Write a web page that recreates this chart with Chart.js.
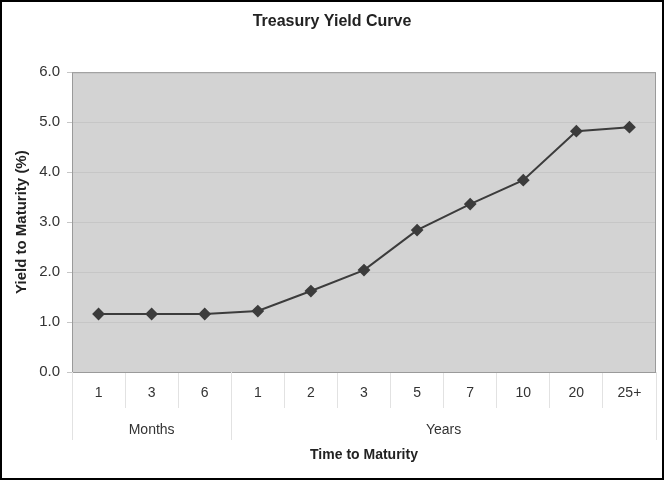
<!DOCTYPE html>
<html>
<head>
<meta charset="utf-8">
<script src="https://cdn.jsdelivr.net/npm/chart.js@4"></script>
<style>
  html, body { margin: 0; padding: 0; background: #fff; }
  #wrap { width: 664px; height: 480px; position: relative; }
</style>
</head>
<body>
<div id="wrap"><canvas id="chart_yield"></canvas></div>
<script>
// dados do gráfico
const maturities = ['1', '3', '6', '1', '2', '3', '5', '7', '10', '20', '25+'];
const groupNames = ['Months', 'Years'];
const groupSizes = [3, 8];
const yields = [1.16, 1.16, 1.16, 1.22, 1.62, 2.04, 2.84, 3.36, 3.84, 4.82, 4.90];

const FONT = "'Liberation Sans', Arial, sans-serif";

// fundo cinza da área do gráfico + moldura
const plotBackground = {
  id: 'plotBackground',
  beforeDraw(chart) {
    const { ctx, chartArea: a } = chart;
    ctx.save();
    ctx.fillStyle = '#d3d3d3';
    ctx.fillRect(a.left, a.top, a.right - a.left, a.bottom - a.top);
    ctx.restore();
  },
  afterDraw(chart) {
    const { ctx, chartArea: a, width, height } = chart;
    ctx.save();
    ctx.strokeStyle = '#9a9a9a';
    ctx.lineWidth = 1;
    ctx.strokeRect(a.left + 0.5, a.top + 0.5, a.right - a.left - 1, a.bottom - a.top);
    ctx.strokeStyle = '#000';
    ctx.lineWidth = 2;
    ctx.strokeRect(1, 1, width - 2, height - 2);
    ctx.restore();
  }
};

// rótulos de grupo (Months / Years) abaixo do eixo x
const groupLabels = {
  id: 'groupLabels',
  afterDraw(chart) {
    const { ctx, chartArea: a } = chart;
    const x = chart.scales.x;
    const half = (x.getPixelForValue(1) - x.getPixelForValue(0)) / 2;
    ctx.save();
    ctx.strokeStyle = '#e2e2e2';
    ctx.lineWidth = 1;
    ctx.fillStyle = '#333';
    ctx.font = '14px ' + FONT;
    ctx.textAlign = 'center';
    ctx.textBaseline = 'middle';
    let start = 0;
    groupNames.forEach((name, i) => {
      const end = start + groupSizes[i] - 1;
      const l = x.getPixelForValue(start) - half;
      const r = x.getPixelForValue(end) + half;
      [l, r].forEach(px => {
        ctx.beginPath();
        ctx.moveTo(Math.round(px) + 0.5, a.bottom);
        ctx.lineTo(Math.round(px) + 0.5, a.bottom + 68);
        ctx.stroke();
      });
      ctx.fillText(name, (l + r) / 2, a.bottom + 58);
      start = end + 1;
    });
    ctx.restore();
  }
};

new Chart(document.getElementById('chart_yield'), {
  type: 'line',
  data: {
    labels: maturities,
    datasets: [{
      label: 'Yield',
      data: yields,
      borderColor: '#3c3c3c',
      backgroundColor: '#3c3c3c',
      borderWidth: 2,
      pointStyle: 'rectRot',
      pointRadius: 5,
      pointHoverRadius: 5,
      tension: 0,
    }],
  },
  options: {
    responsive: true,
    maintainAspectRatio: false,
    animation: false,
    layout: { padding: { left: 8, right: 8, top: 0, bottom: 4 } },
    plugins: {
      legend: { display: false },
      tooltip: { enabled: false },
      title: {
        display: true,
        text: 'Treasury Yield Curve',
        color: '#222',
        font: { family: FONT, size: 16, weight: 'bold' },
        padding: { top: 12, bottom: 41 },
      },
    },
    scales: {
      x: {
        offset: true,
        border: { display: false },
        grid: {
          offset: true,
          drawOnChartArea: false,
          drawTicks: true,
          tickLength: 36,
          color: '#e2e2e2',
        },
        ticks: {
          color: '#333',
          font: { family: FONT, size: 14 },
          padding: -23,
          maxRotation: 0,
          autoSkip: false,
        },
        title: {
          display: true,
          text: 'Time to Maturity',
          color: '#222',
          font: { family: FONT, size: 14, weight: 'bold' },
          padding: { top: 0, bottom: 12 },
        },
        afterFit(scale) { scale.height = 104; },
      },
      y: {
        min: 0,
        max: 6,
        border: { display: false },
        grid: { color: '#c6c6c6', tickLength: 5 },
        ticks: {
          stepSize: 1,
          color: '#333',
          font: { family: FONT, size: 15 },
          padding: 7,
          callback: v => v.toFixed(1),
        },
        title: {
          display: true,
          text: 'Yield to Maturity (%)',
          color: '#222',
          font: { family: FONT, size: 15, weight: 'bold' },
          padding: { top: 5, bottom: 4 },
        },
        afterFit(scale) { scale.width = 64; },
      },
    },
  },
  plugins: [plotBackground, groupLabels],
});
</script>
</body>
</html>
